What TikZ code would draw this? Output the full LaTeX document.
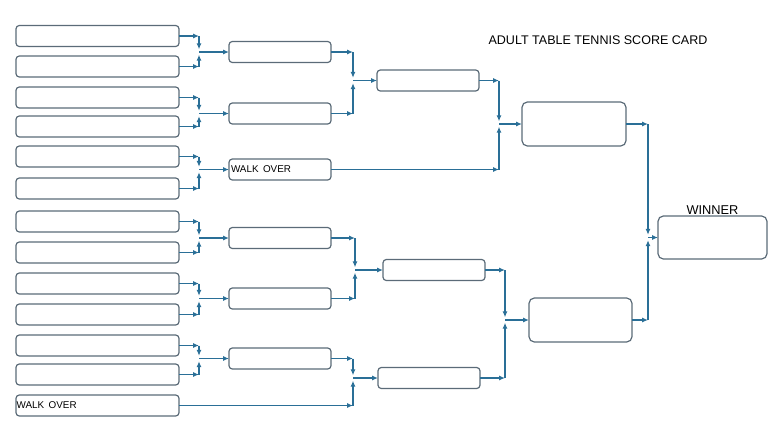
\documentclass[tikz,border=0pt]{standalone}
\usepackage{fontspec}
\setmainfont{Liberation Sans}
\usetikzlibrary{arrows.meta}
\definecolor{lineBlue}{HTML}{2A6F97}
\definecolor{boxGray}{HTML}{5B6B78}

\tikzstyle{capNode} = [rectangle, rounded corners=2.5pt, minimum width=122.25pt, minimum height=15.75pt, inner sep=0pt, outer sep=0pt, draw=boxGray, line width=0.9pt]
\tikzstyle{capNodeSmall} = [capNode, minimum width=76.5pt]
\tikzstyle{capNodeBig} = [capNode, rounded corners=4pt, minimum width=78pt, minimum height=33pt]
\tikzstyle{arrow} = [line width=1pt, draw=lineBlue, -{Latex[length=4.5pt,width=3.8pt]}]

\begin{document}
\begin{tikzpicture}[x=0.75pt, y=-0.75pt]
  \useasboundingbox (0,0) rectangle (768,433);

  \node (title) at (598,40) {\fontsize{9.4}{11}\selectfont ADULT TABLE TENNIS SCORE CARD};

  % players
  \node (p1)[capNode] at (97.5,36) {};
  \node (p2)[capNode] at (97.5,66.5) {};
  \node (p3)[capNode] at (97.5,97.5) {};
  \node (p4)[capNode] at (97.5,126.5) {};
  \node (p5)[capNode] at (97.5,156.5) {};
  \node (p6)[capNode] at (97.5,188.5) {};
  \node (p7)[capNode] at (97.5,221.5) {};
  \node (p8)[capNode] at (97.5,252.5) {};
  \node (p9)[capNode] at (97.5,283.5) {};
  \node (p10)[capNode] at (97.5,314.5) {};
  \node (p11)[capNode] at (97.5,345.5) {};
  \node (p12)[capNode] at (97.5,374.5) {};
  \node (p13)[capNode, text width=121.25pt, inner xsep=0.5pt, align=left] at (97.5,405.5) {\fontsize{7.4}{9}\selectfont WALK OVER};

  % second round
  \node (m1)[capNodeSmall] at (280,52) {};
  \node (m2)[capNodeSmall] at (280,113.5) {};
  \node (m3)[capNodeSmall, text width=73.5pt, inner xsep=1.5pt, align=left] at (280,169.5) {\fontsize{7.4}{9}\selectfont WALK OVER};
  \node (m4)[capNodeSmall] at (280,238) {};
  \node (m5)[capNodeSmall] at (280,298.5) {};
  \node (m6)[capNodeSmall] at (280,358.5) {};

  \node (qf1)[capNodeSmall] at (428,80.5) {};
  \node (qf2)[capNodeSmall] at (434,270) {};
  \node (qf3)[capNodeSmall] at (429,378) {};

  \node (sf1)[capNodeBig] at (574,124) {};
  \node (sf2)[capNodeBig, minimum width=77.25pt] at (580.5,320) {};

  \node (winner)[capNodeBig, minimum width=81.75pt, minimum height=32.25pt,
    label={[inner sep=0pt, label distance=0.6pt]above:\fontsize{9.6}{11}\selectfont WINNER}] at (712.5,237.5) {};

  % junctions
  \coordinate (a_m1) at (199,52);
  \coordinate (a_m2) at (199,113.5);
  \coordinate (a_m3) at (199,169.5);
  \coordinate (a_m4) at (199,238);
  \coordinate (a_m5) at (199,298.5);
  \coordinate (a_m6) at (199,358.5);
  \coordinate (a_qf1) at (353,80.5);
  \coordinate (a_qf2) at (355,270);
  \coordinate (a_qf3) at (353,378);
  \coordinate (a_sf1) at (499,124);
  \coordinate (a_sf2) at (505,320);
  \coordinate (a_w) at (648,237.5);

  \draw [arrow] (p1.east) -- (p1.east -| a_m1);
  \draw [arrow] (p2.east) -- (p2.east -| a_m1);
  \draw [arrow] (p1.east -| a_m1) -- ([yshift=2pt]a_m1);
  \draw [arrow] (p2.east -| a_m1) -- ([yshift=-2pt]a_m1);
  \draw [arrow] (a_m1) -- (m1);

  \draw [arrow] (p3.east) -- (p3.east -| a_m2);
  \draw [arrow] (p4.east) -- (p4.east -| a_m2);
  \draw [arrow] (p3.east -| a_m2) -- ([yshift=2pt]a_m2);
  \draw [arrow] (p4.east -| a_m2) -- ([yshift=-2pt]a_m2);
  \draw [arrow] (a_m2) -- (m2);

  \draw [arrow] (p5.east) -- (p5.east -| a_m3);
  \draw [arrow] (p6.east) -- (p6.east -| a_m3);
  \draw [arrow] (p5.east -| a_m3) -- ([yshift=2pt]a_m3);
  \draw [arrow] (p6.east -| a_m3) -- ([yshift=-2pt]a_m3);
  \draw [arrow] (a_m3) -- (m3);

  \draw [arrow] (p7.east) -- (p7.east -| a_m4);
  \draw [arrow] (p8.east) -- (p8.east -| a_m4);
  \draw [arrow] (p7.east -| a_m4) -- ([yshift=2pt]a_m4);
  \draw [arrow] (p8.east -| a_m4) -- ([yshift=-2pt]a_m4);
  \draw [arrow] (a_m4) -- (m4);

  \draw [arrow] (p9.east) -- (p9.east -| a_m5);
  \draw [arrow] (p10.east) -- (p10.east -| a_m5);
  \draw [arrow] (p9.east -| a_m5) -- ([yshift=2pt]a_m5);
  \draw [arrow] (p10.east -| a_m5) -- ([yshift=-2pt]a_m5);
  \draw [arrow] (a_m5) -- (m5);

  \draw [arrow] (p11.east) -- (p11.east -| a_m6);
  \draw [arrow] (p12.east) -- (p12.east -| a_m6);
  \draw [arrow] (p11.east -| a_m6) -- ([yshift=2pt]a_m6);
  \draw [arrow] (p12.east -| a_m6) -- ([yshift=-2pt]a_m6);
  \draw [arrow] (a_m6) -- (m6);

  \draw [arrow] (m1.east) -- (m1.east -| a_qf1);
  \draw [arrow] (m2.east) -- (m2.east -| a_qf1);
  \draw [arrow] (m1.east -| a_qf1) -- ([yshift=2pt]a_qf1);
  \draw [arrow] (m2.east -| a_qf1) -- ([yshift=-2pt]a_qf1);
  \draw [arrow] (a_qf1) -- (qf1);

  \draw [arrow] (m4.east) -- (m4.east -| a_qf2);
  \draw [arrow] (m5.east) -- (m5.east -| a_qf2);
  \draw [arrow] (m4.east -| a_qf2) -- ([yshift=2pt]a_qf2);
  \draw [arrow] (m5.east -| a_qf2) -- ([yshift=-2pt]a_qf2);
  \draw [arrow] (a_qf2) -- (qf2);

  \draw [arrow] (m6.east) -- (m6.east -| a_qf3);
  \draw [arrow] (p13.east) -- (p13.east -| a_qf3);
  \draw [arrow] (m6.east -| a_qf3) -- ([yshift=2pt]a_qf3);
  \draw [arrow] (p13.east -| a_qf3) -- ([yshift=-2pt]a_qf3);
  \draw [arrow] (a_qf3) -- (qf3);

  \draw [arrow] (qf1.east) -- (qf1.east -| a_sf1);
  \draw [arrow] (m3.east) -- (m3.east -| a_sf1);
  \draw [arrow] (qf1.east -| a_sf1) -- ([yshift=2pt]a_sf1);
  \draw [arrow] (m3.east -| a_sf1) -- ([yshift=-2pt]a_sf1);
  \draw [arrow] (a_sf1) -- (sf1);

  \draw [arrow] (qf2.east) -- (qf2.east -| a_sf2);
  \draw [arrow] (qf3.east) -- (qf3.east -| a_sf2);
  \draw [arrow] (qf2.east -| a_sf2) -- ([yshift=2pt]a_sf2);
  \draw [arrow] (qf3.east -| a_sf2) -- ([yshift=-2pt]a_sf2);
  \draw [arrow] (a_sf2) -- (sf2);

  \draw [arrow] (sf1.east) -- (sf1.east -| a_w);
  \draw [arrow] (sf2.east) -- (sf2.east -| a_w);
  \draw [arrow] (sf1.east -| a_w) -- ([yshift=2pt]a_w);
  \draw [arrow] (sf2.east -| a_w) -- ([yshift=-2pt]a_w);
  \draw [arrow] (a_w) -- (winner);
\end{tikzpicture}
\end{document}
